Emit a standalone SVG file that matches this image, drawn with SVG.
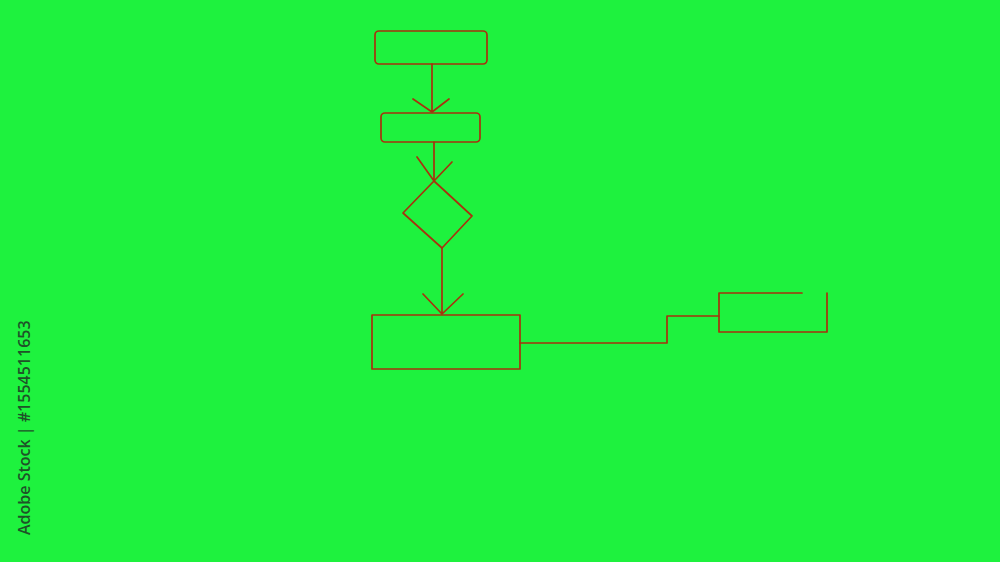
<svg xmlns="http://www.w3.org/2000/svg" width="1000" height="562" viewBox="0 0 1000 562">
<style>
.s{fill:none;stroke:#a8320e;stroke-width:1.7;stroke-linecap:round;stroke-linejoin:round}
.t{font-family:"Open Sans","Noto Sans",sans-serif;font-size:16px;font-weight:600;fill:#1f5228}
</style>
<rect width="1000" height="562" fill="#1ef23e"/>
<g id="start"><rect class="s" x="375" y="31" width="112" height="33" rx="4"/></g>
<g id="step"><rect class="s" x="381" y="113" width="99" height="29" rx="4"/></g>
<g id="decision"><path class="s" d="M434,181 L472,216 L442,248 L403,213 Z"/></g>
<g id="process"><rect class="s" x="372" y="315" width="148" height="54"/></g>
<g id="side"><path class="s" d="M802,293 H719 V332 H827 V293"/></g>
<g id="connectors">
<path class="s" d="M432,64 V112 M413,99 L432,112 L449,99"/>
<path class="s" d="M434,142 V181 M417,157 L434,181 L452,162"/>
<path class="s" d="M442,248 V314 M423,294 L442,314 L463,294"/>
<path class="s" d="M520,343 H667 V316 H719"/>
</g>
<text class="t" transform="translate(30,535) rotate(-90)">Adobe Stock | #1554511653</text>
</svg>
